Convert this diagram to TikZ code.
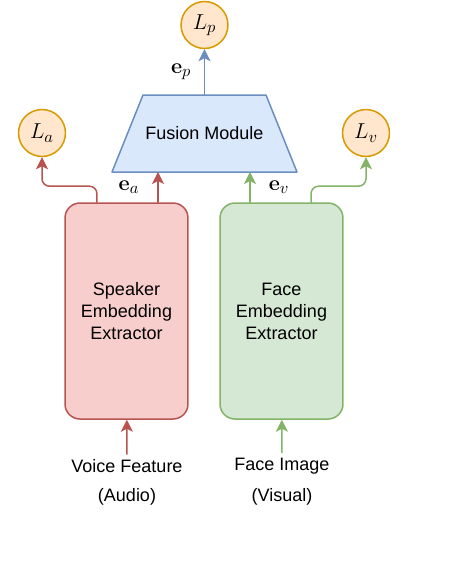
\documentclass[tikz,border=0pt]{standalone}
\usepackage[no-math]{fontspec}
\setmainfont{Liberation Sans}
\usetikzlibrary{arrows.meta}
\usetikzlibrary{positioning}
\definecolor{spkfill}{HTML}{F8CECC}
\definecolor{spkdraw}{HTML}{B85450}
\definecolor{facefill}{HTML}{D5E8D4}
\definecolor{facedraw}{HTML}{82B366}
\definecolor{fusfill}{HTML}{DAE8FC}
\definecolor{fusdraw}{HTML}{6C8EBF}
\definecolor{lossfill}{HTML}{FFE6CC}
\definecolor{lossdraw}{HTML}{D79B00}

\begin{document}
\begin{tikzpicture}[line cap=round,line join=round,>={Stealth[length=8pt,width=8pt,inset=2pt]},x=0.6667pt,y=-0.6667pt,
  font=\fontsize{12}{14.6}\selectfont,
  extractor/.style={draw,line width=1pt,rounded corners=10pt,minimum width=82pt,minimum height=144pt,align=center},
  loss/.style={circle,draw=lossdraw,fill=lossfill,line width=1pt,minimum size=31.3pt,inner sep=0pt,
    font=\fontsize{15.5}{18}\selectfont},
  emb/.style={text=black,font=\fontsize{15.5}{18}\selectfont},
  link/.style={->,line width=1pt}]
\useasboundingbox (0,0) rectangle (463,581);

%boxes
\node[extractor,draw=spkdraw,fill=spkfill] (spk) at (126.5,311) {Speaker\\Embedding\\Extractor};
\node[extractor,draw=facedraw,fill=facefill] (face) at (281.5,311) {Face\\Embedding\\Extractor};
\draw[fusdraw,fill=fusfill,line width=1pt] (112,172) -- (143,95) -- (266,95) -- (297,172) -- cycle;
\node[minimum width=123.3pt,minimum height=51.3pt,outer sep=0pt] (fusion) at (204.5,133.5) {Fusion Module};

%losses
\node[loss] (Lp) at (204.5,25) {$L_p$};
\node[loss] (La) at (42,133) {$L_a$};
\node[loss] (Lv) at (366,133) {$L_v$};

%inputs
\node (voice) at (127,466) {Voice Feature};
\node (audio) at (127,497) {(Audio)};
\node (img) at (282,466) {Face Image};
\node (visual) at (282,497) {(Visual)};

\draw[link,spkdraw] (voice) -- (spk);
\draw[link,facedraw] (img) -- (face);

%embeddings
\draw[link,spkdraw] ([xshift=21pt]spk.north) -- ([xshift=21pt]spk.north |- fusion.south)
  node[emb,midway,left=8.7pt] {$\mathbf{e}_a$};
\draw[link,spkdraw,rounded corners=5pt] ([xshift=-19.7pt]spk.north) -- ++(0,10.7pt) -| (La);
\draw[link,facedraw] ([xshift=-21pt]face.north) -- ([xshift=-21pt]face.north |- fusion.south)
  node[emb,midway,right=8.7pt] {$\mathbf{e}_v$};
\draw[link,facedraw,rounded corners=5pt] ([xshift=19.7pt]face.north) -- ++(0,10.7pt) -| (Lv);
\draw[link,fusdraw] (fusion.north) -- (Lp) node[emb,midway,left=5pt] {$\mathbf{e}_p$};
\end{tikzpicture}
\end{document}
